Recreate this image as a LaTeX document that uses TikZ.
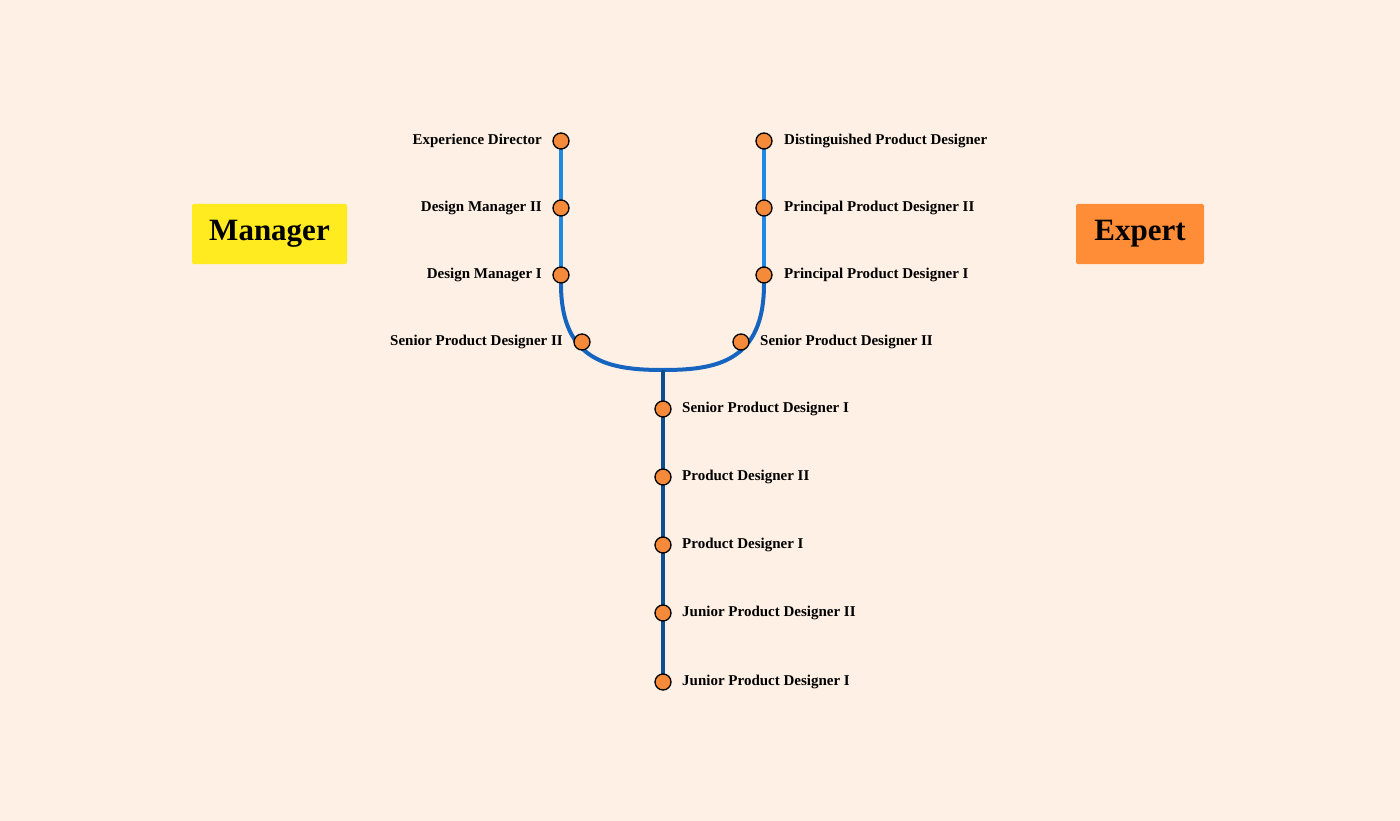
\documentclass[tikz,border=0pt]{standalone}
\usepackage{fontspec}
\setmainfont{Liberation Serif}
\begin{document}
\begin{tikzpicture}[x=1pt,y=-1pt,
  dot/.style={circle,draw=black,line width=1.3pt,fill=dotc,minimum size=16pt,inner sep=0pt},
  lbl/.style={font=\fontsize{15}{15}\selectfont\bfseries,inner sep=0pt},
  tag/.style={font=\fontsize{31}{31}\selectfont\bfseries,rounded corners=2pt,minimum height=60pt,inner sep=0pt}]
\definecolor{bg}{HTML}{FEF0E4}
\definecolor{dotc}{HTML}{F58A3A}
\definecolor{lb}{HTML}{1E88E5}
\definecolor{mb}{HTML}{1565C0}
\definecolor{db}{HTML}{0D4E8F}
\definecolor{yel}{HTML}{FFEB1F}
\definecolor{ora}{HTML}{FF8C36}
\fill[bg] (0,0) rectangle (1400,821);
\useasboundingbox (0,0) rectangle (1400,821);
% lines
\coordinate (j) at (663,370);
\coordinate (bot) at (663,682);
\draw[lb,line width=4pt] (561,141) -- (561,285);
\draw[lb,line width=4pt] (764,141) -- (764,285);
\draw[mb,line width=4pt] (561,284) .. controls (561,362) and (610,370) .. (j) .. controls (716,370) and (764,362) .. (764,284);
\draw[db,line width=4pt] (j) -- (bot);
% dots
\node[dot] (ed) at (561,141) {};
\node[dot] (dm2) at (561,208) {};
\node[dot] (dm1) at (561,275) {};
\node[dot] (spl) at (582,342) {};
\node[dot] (dpd) at (764,141) {};
\node[dot] (pp2) at (764,208) {};
\node[dot] (pp1) at (764,275) {};
\node[dot] (spr) at (741,342) {};
\node[dot] (sp1) at (663,409) {};
\node[dot] (pd2) at (663,477) {};
\node[dot] (pd1) at (663,545) {};
\node[dot] (jp2) at (663,613) {};
\node[dot] (jp1) at (663,682) {};
% labels
\node[lbl,anchor=east] (l1) at (542,141) {Experience Director};
\node[lbl,anchor=east] (l2) at (542,208) {Design Manager II};
\node[lbl,anchor=east] (l3) at (542,275) {Design Manager I};
\node[lbl,anchor=east] (l4) at (563,342) {Senior Product Designer II};
\node[lbl,anchor=west] (r1) at (784,141) {Distinguished Product Designer};
\node[lbl,anchor=west] (r2) at (784,208) {Principal Product Designer II};
\node[lbl,anchor=west] (r3) at (784,275) {Principal Product Designer I};
\node[lbl,anchor=west] (r4) at (760,342) {Senior Product Designer II};
\node[lbl,anchor=west] (b1) at (682,409) {Senior Product Designer I};
\node[lbl,anchor=west] (b2) at (682,477) {Product Designer II};
\node[lbl,anchor=west] (b3) at (682,545) {Product Designer I};
\node[lbl,anchor=west] (b4) at (682,613) {Junior Product Designer II};
\node[lbl,anchor=west] (b5) at (682,682) {Junior Product Designer I};
% tags
\node[tag,fill=yel,minimum width=155pt] (man) at (269.5,234) {Manager};
\node[tag,fill=ora,minimum width=128pt] (exp) at (1140,234) {Expert};
\end{tikzpicture}
\end{document}
